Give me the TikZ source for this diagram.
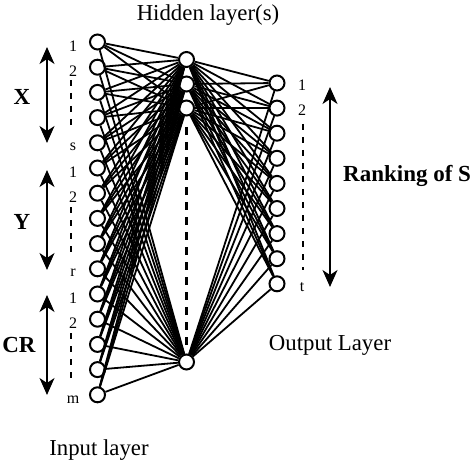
\documentclass[tikz,border=0pt]{standalone}
\usepackage{fontspec}
\setmainfont{Liberation Serif}
\usetikzlibrary{arrows.meta}
\begin{document}
\begin{tikzpicture}[x=1pt,y=-1pt,
  neuron/.style={circle,draw,line width=2pt,minimum size=15pt,inner sep=0pt,fill=white},
  conn/.style={line width=1.8pt},
  idx/.style={font=\fontsize{16}{16}\selectfont,inner sep=0pt},
  title/.style={font=\fontsize{22.8}{22.8}\selectfont,inner sep=0pt},
  grp/.style={font=\fontsize{23}{23}\selectfont\bfseries,inner sep=0pt},
  darrow/.style={line width=2pt,{Stealth[length=17pt,width=15pt,inset=5pt]}-{Stealth[length=17pt,width=15pt,inset=5pt]}},
  thindash/.style={line width=1.6pt,dash pattern=on 6pt off 7pt},
  thickdash/.style={line width=3.8pt,dash pattern=on 8pt off 7pt}]
\useasboundingbox (0,0) rectangle (474,468);
% input layer
\foreach \k in {0,...,14} \node[neuron] (i\k) at (97.5,{42+25.2*\k}) {};
% hidden layer
\node[neuron] (h1) at (186.5,59.5) {};
\node[neuron] (h2) at (186.5,84) {};
\node[neuron] (h3) at (186.5,108) {};
\node[neuron] (h4) at (186.5,362) {};
% output layer
\foreach \k in {0,...,8} \node[neuron] (o\k) at (277,{83+25.1*\k}) {};
% connections
\foreach \a in {0,...,14} \foreach \b in {1,...,4} \draw[conn] (i\a) -- (h\b);
\foreach \b in {1,...,4} \foreach \c in {0,...,8} \draw[conn] (h\b) -- (o\c);
% hidden dashed
\coordinate (hd1) at (186.5,127);
\coordinate (hd2) at (186.5,345);
\draw[thickdash] (hd1) -- (hd2);
% input indices
\node[idx] at (73,46) {1};
\node[idx] at (73,71) {2};
\node[idx] at (73,147) {s};
\node[idx] at (73,172) {1};
\node[idx] at (73,197) {2};
\node[idx] at (73,273) {r};
\node[idx] at (73,298) {1};
\node[idx] at (73,323) {2};
\node[idx] at (73,400) {m};
\coordinate (d1a) at (71,80); \coordinate (d1b) at (71,132);
\coordinate (d2a) at (71,207); \coordinate (d2b) at (71,258);
\coordinate (d3a) at (71,333); \coordinate (d3b) at (71,385);
\draw[thindash] (d1a) -- (d1b);
\draw[thindash] (d2a) -- (d2b);
\draw[thindash] (d3a) -- (d3b);
% output indices
\node[idx] at (302,85) {1};
\node[idx] at (302,110) {2};
\node[idx] at (302,287) {t};
\coordinate (d4a) at (303,124); \coordinate (d4b) at (303,270);
\draw[thindash] (d4a) -- (d4b);
% group arrows
\coordinate (xa) at (47,47); \coordinate (xb) at (47,143);
\coordinate (ya) at (47,170); \coordinate (yb) at (47,270);
\coordinate (ca) at (47,295); \coordinate (cb) at (47,395);
\coordinate (ra) at (330,87); \coordinate (rb) at (330,287);
\draw[darrow] (xa) -- (xb);
\draw[darrow] (ya) -- (yb);
\draw[darrow] (ca) -- (cb);
\draw[darrow] (ra) -- (rb);
\node[grp] (lx) at (22,97) {X};
\node[grp] (ly) at (22,222) {Y};
\node[grp] (lcr) at (19,345) {CR};
\node[grp,anchor=west] (lrank) at (343,176) {Ranking of S};
% titles
\node[title] (th) at (208,15) {Hidden layer(s)};
\node[title] (ti) at (99,450) {Input layer};
\node[title] (to) at (330,345) {Output Layer};
\end{tikzpicture}
\end{document}
